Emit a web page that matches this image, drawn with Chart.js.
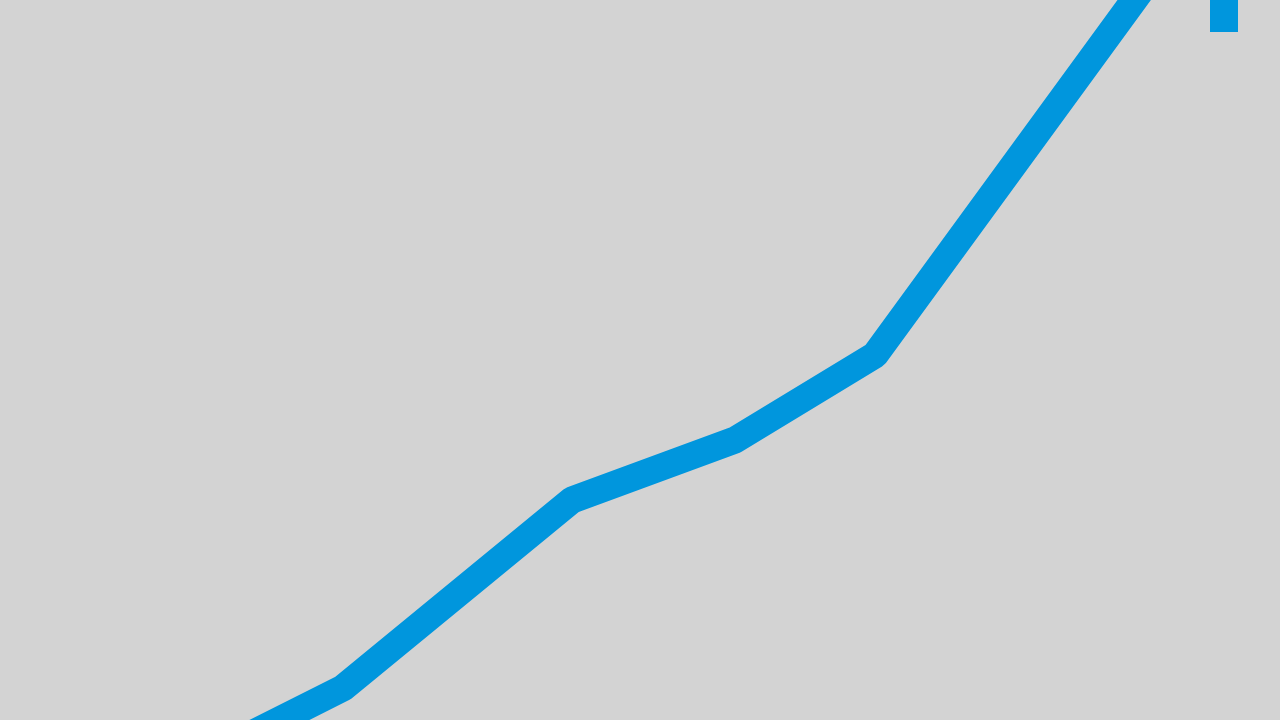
<!DOCTYPE html>
<html>
<head>
<meta charset="utf-8">
<script src="https://cdn.jsdelivr.net/npm/chart.js@4"></script>
<style>
  html, body { margin: 0; padding: 0; background: #d3d3d3; }
  #wrap { width: 1280px; height: 720px; }
</style>
</head>
<body>
<div id="wrap"><canvas id="growthChart"></canvas></div>
<script>
// values (x and y in arbitrary units)
const xValues = [18, 34.3, 57.2, 73.5, 87.5, 117.8];
const yValues = [-5, 3.2, 22, 28, 36.5, 78];
// the short blue bar at the top right
const barX = [122.4, 122.4];
const barY = [68.8, 76];

const lineColor = 'rgb(0, 150, 221)';

const ctx = document.getElementById('growthChart').getContext('2d');

const growthChart = new Chart(ctx, {
    type: 'scatter',
    data: {
        datasets: [
            {
                label: 'Growth',
                data: xValues.map((x, i) => ({ x: x, y: yValues[i] })),
                showLine: true,
                borderColor: lineColor,
                borderWidth: 27,
                borderJoinStyle: 'bevel',
                borderCapStyle: 'butt',
                pointRadius: 0,
                tension: 0
            },
            {
                label: 'Marker',
                data: barX.map((x, i) => ({ x: x, y: barY[i] })),
                showLine: true,
                borderColor: lineColor,
                borderWidth: 28,
                borderCapStyle: 'butt',
                pointRadius: 0
            }
        ]
    },
    options: {
        responsive: true,
        maintainAspectRatio: false,
        animation: false,
        layout: { padding: 0 },
        scales: {
            x: { type: 'linear', min: 0, max: 128, display: false },
            y: { type: 'linear', min: 0, max: 72, display: false }
        },
        plugins: {
            legend: { display: false },
            tooltip: { enabled: false }
        }
    }
});
</script>
</body>
</html>
